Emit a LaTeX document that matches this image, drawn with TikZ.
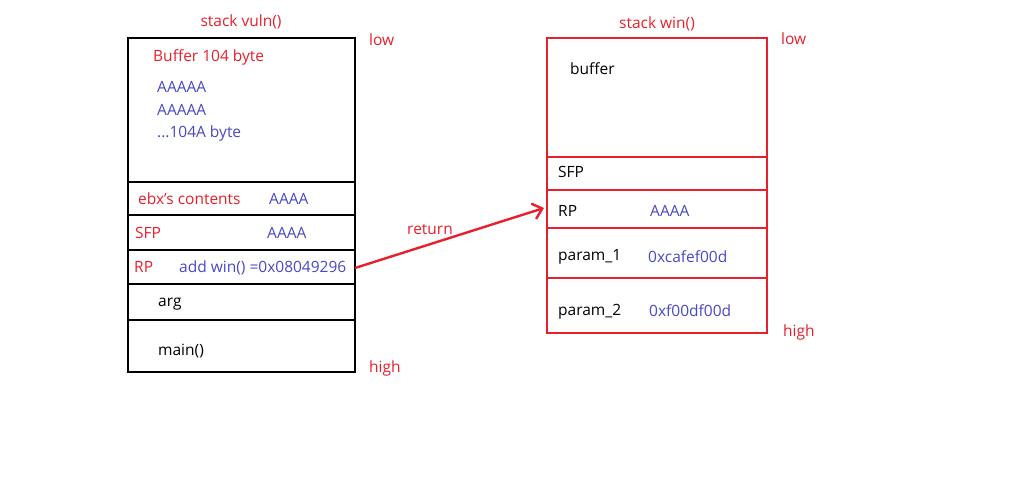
\documentclass[tikz,border=0pt]{standalone}
\usepackage{fontspec}
\setmainfont{Open Sans}
\usetikzlibrary{arrows.meta}
\definecolor{lred}{RGB}{232,32,44}
\definecolor{lblue}{RGB}{72,72,200}
\begin{document}
\begin{tikzpicture}[x=1pt,y=-1pt,
  lbl/.style={anchor=west,inner sep=1pt,font=\fontsize{15.5}{17}\selectfont},
  red lbl/.style={lbl,text=lred},
  blue lbl/.style={lbl,text=lblue},
  black lbl/.style={lbl,text=black},
  box/.style={line width=2.4pt}]
\useasboundingbox (0,0) rectangle (1024,479);
% left stack
\draw[box] (128,38) rectangle (355,372);
\foreach \y in {182,215,250,284,320} \draw[box] (128,\y) -- (355,\y);
\node[red lbl,anchor=center] (t1) at (241,22) {stack vuln()};
\node[red lbl] (l1) at (368,40) {low};
\node[red lbl] (h1) at (368,368) {high};
\node[red lbl] (buf) at (152,57) {Buffer 104 byte};
\node[blue lbl] (a1) at (156,87) {AAAAA};
\node[blue lbl] (a2) at (156,110) {AAAAA};
\node[blue lbl] (a3) at (156,133) {...104A byte};
\node[red lbl] (ebx) at (137,199) {ebx's contents};
\node[blue lbl] (ebxv) at (268,199) {AAAA};
\node[red lbl] (sfp) at (134,233) {SFP};
\node[blue lbl] (sfpv) at (266,233) {AAAA};
\node[red lbl] (rp) at (133,267) {RP};
\node[blue lbl] (rpv) at (178,268) {add win() =0x08049296};
\node[black lbl] (arg) at (157,304) {arg};
\node[black lbl] (mn) at (157,351) {main()};
% right stack
\draw[box,lred] (547,38) rectangle (767,333);
\foreach \y in {157,190,228,278} \draw[box,lred] (547,\y) -- (767,\y);
\node[red lbl,anchor=center] (t2) at (657,24) {stack win()};
\node[red lbl] (l2) at (780,39) {low};
\node[red lbl] (h2) at (782,332) {high};
\node[black lbl] (bf) at (569,69) {buffer};
\node[black lbl] (sfp2) at (557,172) {SFP};
\node[black lbl] (rp2) at (557,211) {RP};
\node[blue lbl] (rp2v) at (649,211) {AAAA};
\node[black lbl] (p1) at (557,257) {param\_1};
\node[blue lbl] (p1v) at (647,257) {0xcafef00d};
\node[black lbl] (p2) at (557,312) {param\_2};
\node[blue lbl] (p2v) at (648,311) {0xf00df00d};
% arrow
\coordinate (rpstart) at (355,268);
\coordinate (rpend) at (544,208);
\draw[lred,line width=2.4pt,-{Straight Barb[length=9pt,width=16pt]}] (rpstart) -- (rpend);
\node[red lbl,anchor=center] (ret) at (430,229) {return};
\end{tikzpicture}
\end{document}
